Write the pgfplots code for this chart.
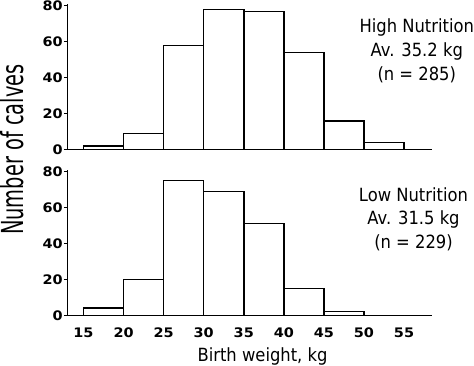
\documentclass[border=0pt]{standalone}
\usepackage{fontspec}
\setmainfont{DejaVu Sans}
\newfontfamily\lbl[FakeStretch=0.9]{DejaVu Sans}
\newfontfamily\ylbl[FakeStretch=0.64]{DejaVu Sans}
\newfontfamily\tlbl[FakeStretch=1.1]{DejaVu Sans Bold}
\usepackage{pgfplots}
\pgfplotsset{compat=1.18}
\begin{document}
\begin{tikzpicture}
\pgfplotsset{
  hist/.style={
    scale only axis, width=361bp, height=144bp,
    xmin=13, xmax=58.5, ymin=0, ymax=81,
    axis x line=bottom, axis y line=left,
    axis line style={-, line width=1.4pt, black},
    ytick={0,20,40,60,80},
    xtick={15,20,25,30,35,40,45,50,55},
    major x tick style={draw=none},
    major y tick style={line width=1pt, black},
    tick align=outside, major tick length=3.5bp,
    /pgf/number format/assume math mode=true,
    ticklabel style={font=\tlbl\fontsize{13bp}{13bp}\selectfont, inner sep=1bp},
    clip=false,
  },
  barstyle/.style={ybar interval, fill=white, draw=black, line width=1.5pt},
}
\begin{axis}[hist, name=top, anchor=south west, at={(0,0)}, xticklabels={}]
\addplot[barstyle] coordinates {(15,2)(20,9)(25,58)(30,78)(35,77)(40,54)(45,16)(50,4)(55,4)};
\node[align=center, inner sep=0pt, font=\lbl\fontsize{18bp}{23.5bp}\selectfont] at (axis description cs:0.958,0.68) {High Nutrition\\Av. 35.2 kg\\(n = 285)};
\end{axis}
\begin{axis}[hist, name=bot, anchor=south west, at={(0,-164bp)},
  xlabel={Birth weight, kg},
  xlabel style={font=\lbl\fontsize{18bp}{18bp}\selectfont, at={(axis description cs:0.535,0)}, anchor=base, yshift=-46bp, inner sep=0pt},
  xticklabel style={yshift=-8bp}]
\addplot[barstyle] coordinates {(15,4)(20,20)(25,75)(30,69)(35,51)(40,15)(45,2)(50,0)(55,0)};
\node[align=center, inner sep=0pt, font=\lbl\fontsize{18bp}{23.5bp}\selectfont] at (axis description cs:0.949,0.66) {Low Nutrition\\Av. 31.5 kg\\(n = 229)};
\end{axis}
\node[rotate=90, anchor=base, inner sep=0pt, font=\ylbl\fontsize{30bp}{30bp}\selectfont] at (-44bp,0bp) {Number of calves};
\end{tikzpicture}
\end{document}
